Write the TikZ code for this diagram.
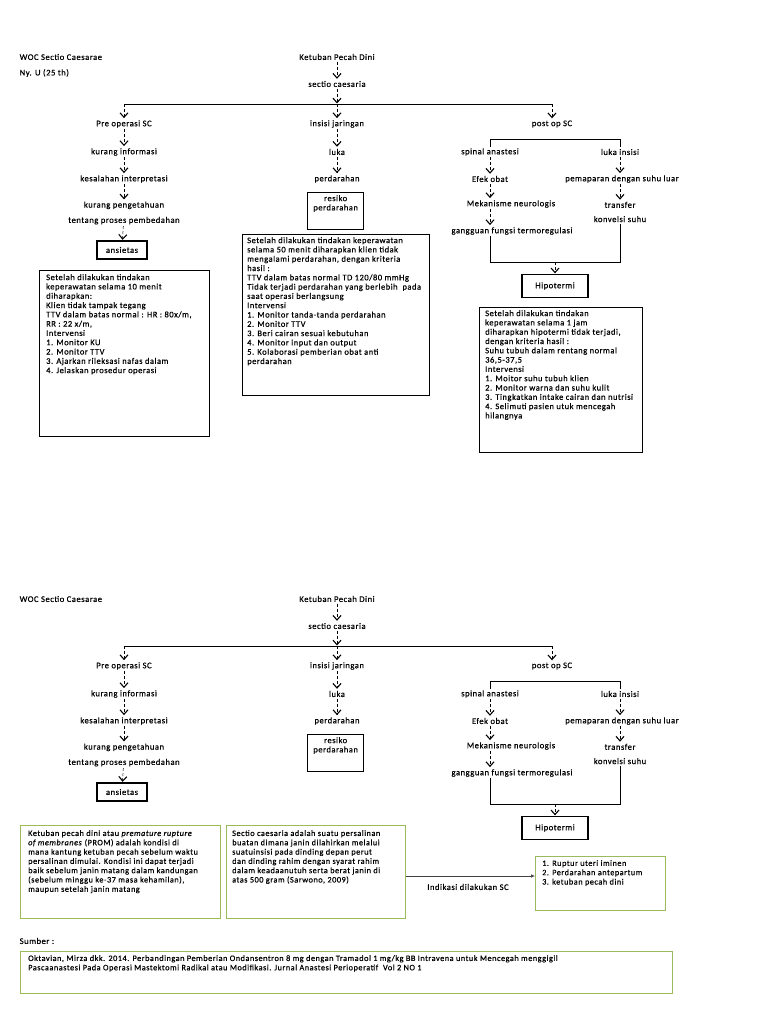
\documentclass[tikz,border=0pt]{standalone}
\usepackage{fontspec}
\setmainfont{Carlito}[LetterSpace=6,FakeBold=0.4]
\usetikzlibrary{arrows.meta,calc}
\definecolor{grn}{HTML}{9BBB59}
\tikzset{
  lbl/.style={inner sep=1.5pt, font=\fontsize{8.6}{9.3}\selectfont, align=center},
  arr/.style={densely dashed, line width=0.5pt, shorten >=0.5pt, -{Straight Barb[length=4.5pt,width=8pt,line width=1.1pt]}},
  ln/.style={line width=0.9pt},
  blkbox/.style={draw, line width=1.3pt, inner sep=0pt, font=\fontsize{8.6}{9.3}\selectfont},
  grnbox/.style={draw=grn, line width=1.3pt, inner sep=0pt, anchor=north west},
  boxtxt/.style={anchor=north west, inner sep=0pt, align=left, font=\fontsize{8.5}{9.3}\selectfont},
  gtxt/.style={anchor=north west, inner sep=0pt, align=left, font=\fontsize{8.3}{9.3}\selectfont},
}
\newcommand\wocflow{%
  \node[lbl, anchor=west] (woc) at (18,57) {WOC Sectio Caesarae};
  \node[lbl] (kpd) at (337,57) {Ketuban Pecah Dini};
  \node[lbl] (sc) at (337,84) {sectio caesaria};
  \coordinate (jl) at (124,104); \coordinate (jc) at (337,104); \coordinate (jr) at (552,104);
  \node[lbl] (pre) at (124,124) {Pre operasi SC};
  \node[lbl] (ins) at (337,124) {insisi jaringan};
  \node[lbl] (post) at (552,124) {post op SC};
  \node[lbl] (ki) at (124,152) {kurang informasi};
  \node[lbl] (luka) at (337,152) {luka};
  \node[lbl] (spa) at (490,152) {spinal anastesi};
  \node[lbl] (lin) at (620,152) {luka insisi};
  \node[lbl] (kes) at (124,179) {kesalahan interpretasi};
  \node[lbl] (perd) at (337,179) {perdarahan};
  \node[lbl] (efek) at (490,179) {Efek obat};
  \node[lbl] (pem) at (622,179) {pemaparan dengan suhu luar};
  \node[lbl] (kp) at (124,213) {kurang pengetahuan\\[6pt]tentang proses pembedahan};
  \node[lbl] (mek) at (511,204) {Mekanisme neurologis};
  \node[lbl] (tr) at (620,212) {transfer\\[5pt]konvelsi suhu};
  \node[lbl] (gfs) at (512,231) {gangguan fungsi termoregulasi};
  \node[blkbox, minimum width=50pt, minimum height=18pt] (ans) at (122,250) {ansietas};
  \node[blkbox, minimum width=56pt, minimum height=37pt, anchor=north west] (res) at (307,192) {};
  \node[boxtxt, align=center, anchor=north] (rest) at ($(res.north)+(0,3)$) {resiko\\perdarahan};
  \node[blkbox, minimum width=66pt, minimum height=23pt] (hip) at (555,286) {Hipotermi};
  \coordinate (bt1) at (490,139); \coordinate (bt2) at (620,139);
  \coordinate (bb1) at (490,262); \coordinate (bb2) at (620,262); \coordinate (bbm) at (555,262);
  \draw[ln] (spa.north) -- (bt1) -- (bt2) -- (lin.north);
  \draw[ln] (gfs.south -| bb1) -- (bb1) -- (bb2) -- (tr.south);
  \draw[ln] (jl) -- (jr);
  \draw[arr] (kpd) -- (sc);
  \draw[arr] (sc) -- (jc);
  \draw[arr] (jl) -- (pre);
  \draw[arr] (jc) -- (ins);
  \draw[arr] (jr) -- (post);
  \draw[arr] (pre) -- (ki);
  \draw[arr] (ki) -- (kes);
  \draw[arr] (kes) -- (kp);
  \draw[arr] (kp) -- (ans);
  \draw[arr] (ins) -- (luka);
  \draw[arr] (luka) -- (perd);
  \draw[arr] (spa) -- (efek);
  \draw[arr] (efek.south) -- (efek.south |- mek.north);
  \draw[arr] (mek.south -| efek.south) -- (efek.south |- gfs.north);
  \draw[arr] (lin) -- (lin |- pem.north);
  \draw[arr] (pem.south -| tr.north) -- (tr.north);
  \draw[arr] (bbm) -- (hip);
}
\begin{document}
\begin{tikzpicture}[x=1pt,y=-1pt]
\fill[white] (0,0) rectangle (768,1024);
\useasboundingbox (0,0) rectangle (768,1024);

% ---------- upper chart ----------
\begin{scope}[name prefix=A-]
\wocflow
\node[lbl, anchor=west] (ny) at (18,73) {Ny. U (25 th)};
\node[blkbox, minimum width=170pt, minimum height=166pt, anchor=north west] (lb) at (39,270) {};
\node[boxtxt] (lbt) at ($(lb.north west)+(7,4)$) {Setelah dilakukan tindakan\\
keperawatan selama 10 menit\\
diharapkan:\\
Klien tidak tampak tegang\\
TTV dalam batas normal : HR : 80x/m,\\
RR : 22 x/m,\\
Intervensi\\
1. Monitor KU\\
2. Monitor TTV\\
3. Ajarkan rileksasi nafas dalam\\
4. Jelaskan prosedur operasi};
\node[blkbox, minimum width=187pt, minimum height=161pt, anchor=north west] (mb) at (242,234) {};
\node[boxtxt] (mbt) at ($(mb.north west)+(5,3)$) {Setelah dilakukan tindakan keperawatan\\
selama 50 menit diharapkan klien tidak\\
mengalami perdarahan, dengan kriteria\\
hasil :\\
TTV dalam batas normal TD 120/80 mmHg\\
Tidak terjadi perdarahan yang berlebih~ pada\\
saat operasi berlangsung\\
Intervensi\\
1. Monitor tanda-tanda perdarahan\\
2. Monitor TTV\\
3. Beri cairan sesuai kebutuhan\\
4. Monitor input dan output\\
5. Kolaborasi pemberian obat anti\\
perdarahan};
\node[blkbox, minimum width=163pt, minimum height=145pt, anchor=north west] (rb) at (479,307) {};
\node[boxtxt] (rbt) at ($(rb.north west)+(6,3)$) {Setelah dilakukan tindakan\\
keperawatan selama 1 jam\\
diharapkan hipotermi tidak terjadi,\\
dengan kriteria hasil :\\
Suhu tubuh dalam rentang normal\\
36,5-37,5\\
Intervensi\\
1. Moitor suhu tubuh klien\\
2. Monitor warna dan suhu kulit\\
3. Tingkatkan intake cairan dan nutrisi\\
4. Selimuti pasien utuk mencegah\\
hilangnya};
\end{scope}

% ---------- lower chart ----------
\begin{scope}[name prefix=B-, yshift=-542pt]
\wocflow
\end{scope}

\node[grnbox, minimum width=200pt, minimum height=93pt] (g1) at (20,825) {};
\node[gtxt] (g1t) at ($(g1.north west)+(8,5)$) {Ketuban pecah dini atau \textit{premature rupture}\\
\textit{of membranes} (PROM) adalah kondisi di\\
mana kantung ketuban pecah sebelum waktu\\
persalinan dimulai. Kondisi ini dapat terjadi\\
baik sebelum janin matang dalam kandungan\\
(sebelum minggu ke-37 masa kehamilan),\\
maupun setelah janin matang};
\node[grnbox, minimum width=179pt, minimum height=93pt] (g2) at (226,825) {};
\node[gtxt] (g2t) at ($(g2.north west)+(6,5)$) {Sectio caesaria adalah suatu persalinan\\
buatan dimana janin dilahirkan melalui\\
suatuinsisi pada dinding depan perut\\
dan dinding rahim dengan syarat rahim\\
dalam keadaanutuh serta berat janin di\\
atas 500 gram (Sarwono, 2009)};
\node[grnbox, minimum width=130pt, minimum height=54pt] (g3) at (535,856) {};
\node[gtxt] (g3t) at ($(g3.north west)+(7,4)$) {1. Ruptur uteri iminen\\
2. Perdarahan antepartum\\
3. ketuban pecah dini};
\coordinate (ga) at (g2.east |- 0,876);
\coordinate (gb) at (g3.west |- 0,876);
\draw[line width=0.6pt, draw=black!75, -{Latex[length=4pt,width=3.5pt]}] (ga) -- (gb);
\node[lbl] (ind) at (468,887) {Indikasi dilakukan SC};

\node[lbl, anchor=west] (smb) at (18,941) {Sumber :};
\node[grnbox, minimum width=652pt, minimum height=42pt] (src) at (20,951) {};
\node[gtxt] (srct) at ($(src.north west)+(8,4)$) {Oktavian, Mirza dkk. 2014. Perbandingan Pemberian Ondansentron 8 mg dengan Tramadol 1 mg/kg BB Intravena untuk Mencegah menggigil\\
Pascaanastesi Pada Operasi Mastektomi Radikal atau Modifikasi. Jurnal Anastesi Perioperatif~ Vol 2 NO 1};
\end{tikzpicture}
\end{document}
